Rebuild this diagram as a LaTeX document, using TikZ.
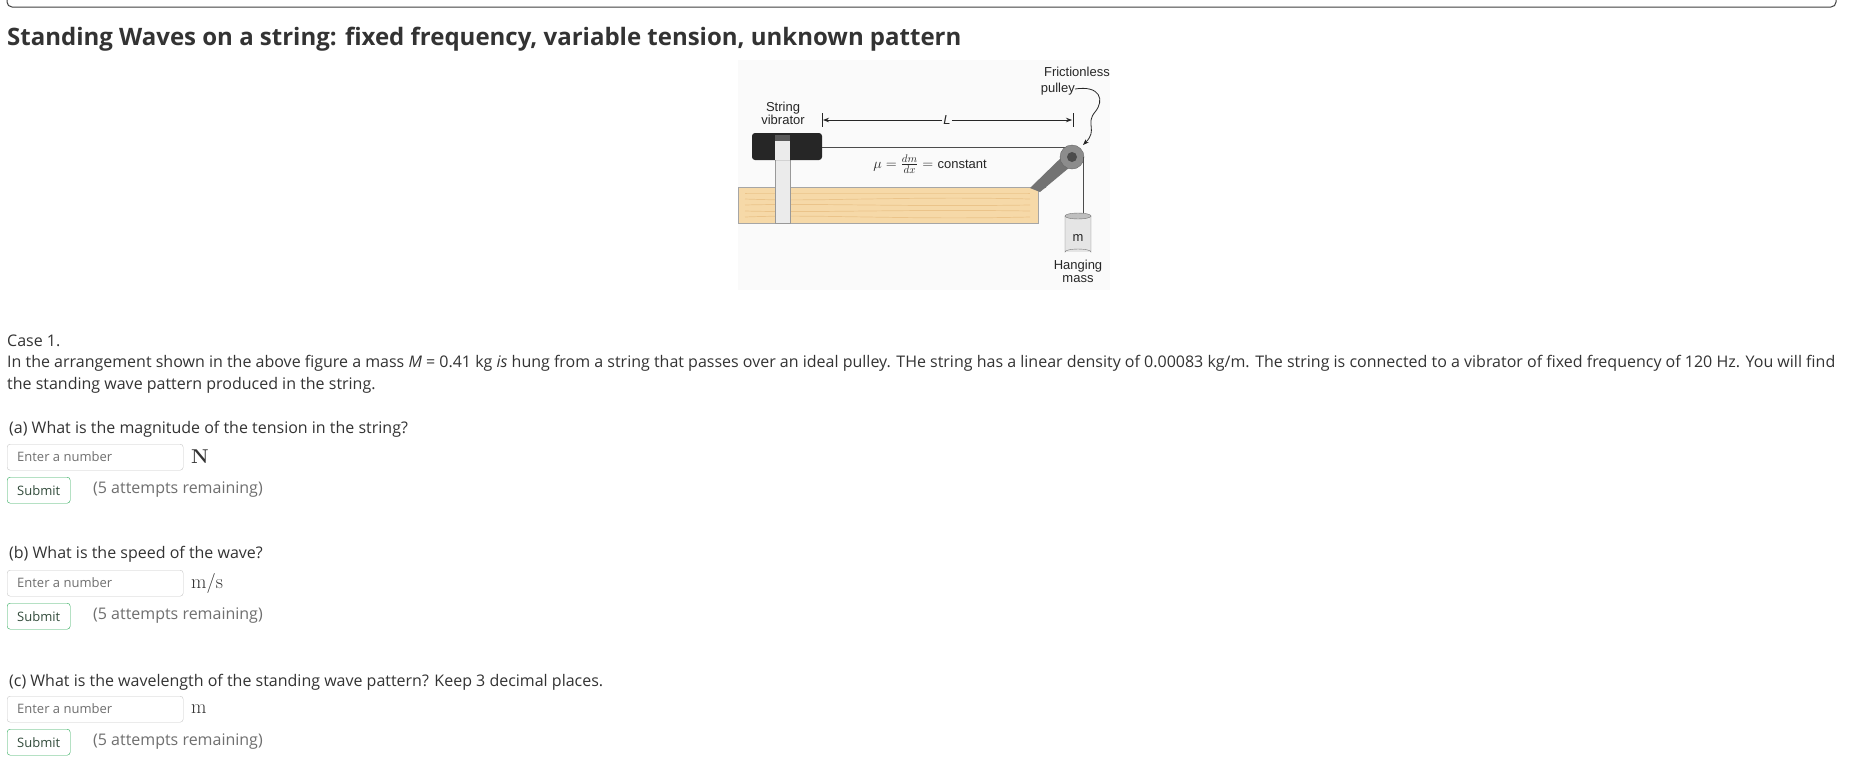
\documentclass[tikz,border=0pt]{standalone}
\usepackage{fontspec}
\setmainfont{Open Sans}
\newfontfamily\figfont{Liberation Sans}
\newfontfamily\lmfont{Latin Modern Roman}
\usetikzlibrary{decorations.pathmorphing,arrows.meta}
\definecolor{txt}{HTML}{333333}
\definecolor{ph}{HTML}{6F6F6F}
\definecolor{subgreen}{HTML}{2EAA5A}
\definecolor{wood}{HTML}{F6D9A8}
\definecolor{grain}{HTML}{EBC48A}
\tikzset{
  body/.style={anchor=base west,inner sep=0pt,text=txt,font=\fontsize{16}{19}\selectfont},
  inbox/.style={draw=black!22,rounded corners=3pt,minimum width=176pt,minimum height=26pt,anchor=north west,inner sep=0pt},
  subbox/.style={draw=subgreen,rounded corners=3pt,minimum width=63pt,minimum height=26pt,anchor=north west,inner sep=0pt,text=txt!80!subgreen,font=\fontsize{13}{15}\selectfont},
  phtext/.style={anchor=west,text=ph,font=\fontsize{13}{15}\selectfont,inner sep=0pt},
  att/.style={anchor=west,text=ph,font=\fontsize{16}{19}\selectfont,inner sep=0pt},
  unit/.style={anchor=west,inner sep=0pt,font=\lmfont\fontsize{20}{22}\selectfont,text=txt},
  flab/.style={font=\figfont\fontsize{13}{14}\selectfont,inner sep=0pt,text=black!85,align=center}
}
\begin{document}
\begin{tikzpicture}[x=1pt,y=-1pt]
\useasboundingbox (0,0) rectangle (1853,764);
\fill[white] (0,0) rectangle (1853,764);
% top panel border
\draw[black!75,line width=1pt,rounded corners=5pt] (7,-20) rectangle (1836,7);
\node[anchor=base west,inner sep=0pt,text=txt,font=\bfseries\fontsize{24}{28}\selectfont] (title) at (7,45) {Standing Waves on a string: fixed frequency, variable tension, unknown pattern};

% ---------- figure ----------
\fill[black!2] (738,60) rectangle (1110,290);
\fill[wood] (738,187) rectangle (1038,223);
\draw[black!35] (738,187) rectangle (1038,223);
\foreach \yy/\aa in {193/0,199/3,205/-2,211/2,217/-3}{
  \draw[grain,line width=0.7pt] (745,\yy) .. controls (820,\yy+\aa) and (900,\yy-\aa) .. (1030,\yy);
}
\draw[black!60,line width=1pt] (1038,190) -- (1046,187);
% pulley arm
\fill[black!55] (1030,188) -- (1068,151) -- (1076,162) -- (1040,192) -- cycle;
% vibrator
\fill[black!8] (775,137) rectangle (790,223);
\draw[black!40] (775,137) rectangle (790,223);
\fill[black!85,rounded corners=3pt] (752,133) rectangle (822,160);
\fill[black!65] (775,135) rectangle (790,141);
\fill[black!8] (775,141) rectangle (790,160);
% string
\coordinate (sL) at (822,147);
\coordinate (sR) at (1072,147);
\draw[black!70,line width=0.8pt] (sL) -- (sR);
% pulley
\node[circle,fill=black!45,draw=black!60,minimum size=24pt,inner sep=0pt] (pulley) at (1072,157) {};
\node[circle,fill=black!70,minimum size=10pt,inner sep=0pt] at (1072,157) {};
% vertical string & mass
\coordinate (vs) at (1083,157);
\fill[black!10] (1065,216) rectangle (1091,252);
\draw[black!55] (1065,216) -- (1065,252) arc[start angle=180,end angle=360,x radius=13,y radius=3] -- (1091,216);
\fill[black!25,draw=black!55] (1078,216) ellipse[x radius=13,y radius=3];
\node[flab] (mass) at (1078,238) {m};
\draw[black!70,line width=0.8pt] (vs) -- (1083,213);
% labels
\node[flab] (vib) at (783,113) {String\\[-1pt]vibrator};
\node[flab,anchor=east] (fp1) at (1110,72) {Frictionless};
\node[flab,anchor=east] (fp2) at (1075,89) {pulley};
\node[flab] (hm) at (1078,271) {Hanging\\[-1pt]mass};
\draw[black!85,line width=0.8pt,-{Stealth[length=6pt]}] (fp2.east) .. controls (1100,85) and (1105,100) .. (1095,112) .. controls (1085,124) and (1098,130) .. (1083,145);
% L dimension
\node[flab,fill=black!2,inner sep=1pt,font=\figfont\itshape\fontsize{13}{14}\selectfont] (Llab) at (947,120) {L};
\draw[black!85,line width=0.8pt] (822,113) -- (822,127);
\draw[black!85,line width=0.8pt] (1073,113) -- (1073,127);
\draw[black!85,line width=0.8pt,-{Stealth[length=6pt]}] (Llab.west) -- (823,120);
\draw[black!85,line width=0.8pt,-{Stealth[length=6pt]}] (Llab.east) -- (1072,120);
\node[flab,font=\figfont\fontsize{15}{16}\selectfont] (mu) at (930,164) {$\mu = \frac{dm}{dx} =$ {\fontsize{13}{14}\selectfont constant}};

% ---------- text ----------
\node[body] (case) at (7,346) {Case 1.};
\node[body] (l1) at (7,367) {In the arrangement shown in the above figure a mass \textit{M} = 0.41 kg \textit{is} hung from a string that passes over an ideal pulley. THe string has a linear density of 0.00083 kg/m. The string is connected to a vibrator of fixed frequency of 120 Hz. You will find};
\node[body] (l2) at (7,389) {the standing wave pattern produced in the string.};

\foreach \q/\qt/\yq in {a/{(a) What is the magnitude of the tension in the string?}/433,
                            b/{(b) What is the speed of the wave?}/558,
                            c/{(c) What is the wavelength of the standing wave pattern? Keep 3 decimal places.}/686}{
  \node[body] (q\q) at (9,\yq) {\qt};
}
\foreach \q/\yb/\un in {a/444/{\bfseries N}, b/570/{m/s}, c/696/{m}}{
  \node[inbox] (in\q) at (7,\yb) {};
  \node[phtext] (ph\q) at (17,\yb+13) {Enter a number};
  \node[unit] (u\q) at (191,\yb+13) {\un};
  \node[subbox] (sb\q) at (7,\yb+33) {Submit};
  \node[att] (at\q) at (93,\yb+46) {(5 attempts remaining)};
}
\end{tikzpicture}
\end{document}
